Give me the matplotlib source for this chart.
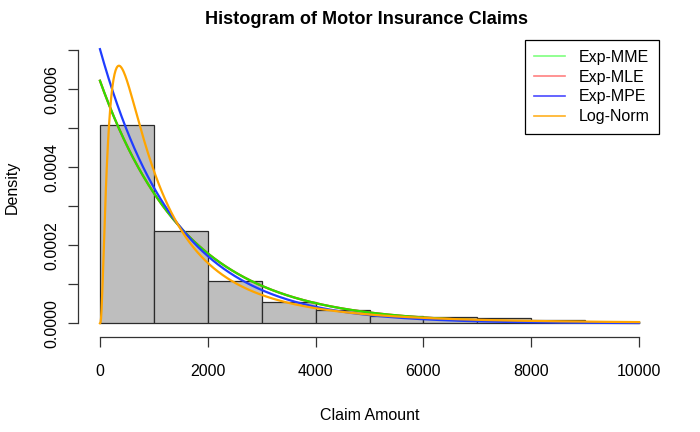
import numpy as np
import matplotlib
matplotlib.use('Agg')
import matplotlib.pyplot as plt
from matplotlib.lines import Line2D

# histogram of claim amounts (density scale), bins of width 1000
bin_edges = [0, 1000, 2000, 3000, 4000, 5000, 6000, 7000, 8000, 9000, 10000]
bin_density = [0.000508, 0.000237, 0.000108, 0.0000555, 0.000034,
               0.0000195, 0.0000155, 0.0000128, 0.000008, 0.000004]

# fitted parameters
rate_mme = 0.000622
rate_mle = 0.000622
rate_mpe = 0.000703
lnorm_mu = 6.904
lnorm_sigma = 1.02

x_ticks = [0, 2000, 4000, 6000, 8000, 10000]
y_ticks = [0.0, 0.0001, 0.0002, 0.0003, 0.0004, 0.0005, 0.0006, 0.0007]
y_ticklabels = ['0.0000', '', '0.0002', '', '0.0004', '', '0.0006', '']

plt.rcParams['font.family'] = ['Liberation Sans', 'DejaVu Sans']
W, H = 700, 432
fig = plt.figure(figsize=(7, 4.32), dpi=100, facecolor='w')
# plot region in pixels: x 78.4..660.6, y 39.4..334.2
ax = fig.add_axes([78.4 / W, 1 - 334.2 / H, (660.6 - 78.4) / W, (334.2 - 39.4) / H])

left = bin_edges[:-1]
widths = np.diff(bin_edges)
ax.bar(left, bin_density, width=widths, align='edge', color='#bebebe',
       edgecolor='#2b2b2b', linewidth=0.9, zorder=1)

xs = np.linspace(0, 10000, 1001)
xs_pos = np.where(xs == 0, 1e-9, xs)
lnorm = np.exp(-(np.log(xs_pos) - lnorm_mu) ** 2 / (2 * lnorm_sigma ** 2)) / (xs_pos * lnorm_sigma * np.sqrt(2 * np.pi))

lw = 1.6
ax.plot(xs, rate_mle * np.exp(-rate_mle * xs), color='#ff2020', lw=lw, zorder=2)
ax.plot(xs, rate_mme * np.exp(-rate_mme * xs), color='#2ee000', lw=lw, zorder=3)
ax.plot(xs, rate_mpe * np.exp(-rate_mpe * xs), color='#1f3dff', lw=lw, zorder=4)
ax.plot(xs, lnorm, color='#ffa500', lw=lw, zorder=5)

ax.set_xlim(-400, 10400)
ax.set_ylim(-0.000028, 0.000728)

for s in ['top', 'right']:
    ax.spines[s].set_visible(False)
ax.spines['left'].set_bounds(0, 0.0007)
ax.spines['bottom'].set_bounds(0, 10000)
ax.spines['bottom'].set_position(('outward', 2))
for s in ['left', 'bottom']:
    ax.spines[s].set_color('#333333')
    ax.spines[s].set_linewidth(0.9)

ax.set_xticks(x_ticks)
ax.set_xticklabels([str(t) for t in x_ticks])
ax.set_yticks(y_ticks)
ax.set_yticklabels(y_ticklabels, rotation=90, va='center')
ax.tick_params(axis='both', direction='out', length=7.5, width=0.9,
               color='#333333', labelsize=11.5)
ax.tick_params(axis='x', pad=12)
ax.tick_params(axis='y', pad=6)

fig.text(369.5 / W, 1 - 416 / H, 'Claim Amount', ha='center', va='center', fontsize=11.5)
fig.text(12 / W, 1 - 187 / H, 'Density', ha='center', va='center', rotation=90, fontsize=11.5)
fig.text(366 / W, 1 - 20 / H, 'Histogram of Motor Insurance Claims', ha='center', va='center',
         fontsize=13.1, fontweight='bold')

handles = [Line2D([], [], color='#7fff7f', lw=1.2),
           Line2D([], [], color='#ff8080', lw=1.2),
           Line2D([], [], color='#4a4aff', lw=1.2),
           Line2D([], [], color='#ffb020', lw=1.2)]
labels = ['Exp-MME', 'Exp-MLE', 'Exp-MPE', 'Log-Norm']
leg = ax.legend(handles, labels, loc='upper right', bbox_to_anchor=(0.998, 0.997),
                borderaxespad=0, fancybox=False, edgecolor='black', fontsize=11.5,
                handlelength=1.95, handletextpad=0.85, labelspacing=0.3,
                borderpad=0.6, framealpha=1)
leg.get_frame().set_linewidth(0.9)

fig.savefig('out.png', dpi=100)
